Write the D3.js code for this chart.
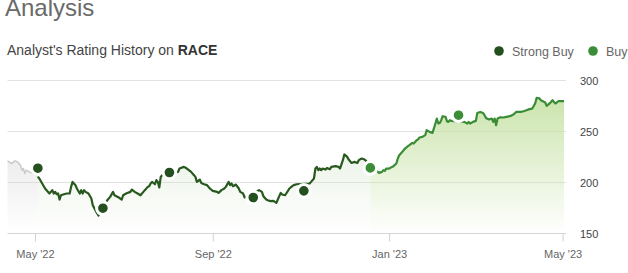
<!DOCTYPE html>
<html>
<head>
<meta charset="utf-8">
<script src="https://cdn.jsdelivr.net/npm/d3@7"></script>
<style>
html,body{margin:0;padding:0;background:#fff;}
svg{display:block;font-family:Arial,"Liberation Sans",sans-serif;}
</style>
</head>
<body>
<svg id="chart" width="628" height="273"></svg>
<script>
const priceDates = ["2022-04-12","2022-04-15","2022-04-17","2022-04-19","2022-04-21","2022-04-22","2022-04-23","2022-04-24","2022-04-25","2022-04-27","2022-04-30","2022-05-02",
"2022-05-04","2022-05-08","2022-05-11","2022-05-13","2022-05-14","2022-05-15","2022-05-16","2022-05-17","2022-05-18","2022-05-19","2022-05-21","2022-05-23","2022-05-25","2022-05-26","2022-05-27","2022-05-29","2022-05-30",
"2022-06-01","2022-06-02","2022-06-03","2022-06-04","2022-06-05","2022-06-07","2022-06-09","2022-06-10","2022-06-12","2022-06-14","2022-06-20","2022-06-22","2022-06-24","2022-06-25","2022-06-28","2022-06-30",
"2022-07-01","2022-07-03","2022-07-06","2022-07-07","2022-07-09","2022-07-11","2022-07-13","2022-07-15","2022-07-16","2022-07-18","2022-07-19","2022-07-20","2022-07-21","2022-07-23","2022-07-24","2022-07-25","2022-07-26","2022-07-27","2022-07-28",
"2022-08-08","2022-08-09","2022-08-12","2022-08-13","2022-08-15","2022-08-17","2022-08-19","2022-08-20","2022-08-21","2022-08-23","2022-08-24","2022-08-26","2022-08-28","2022-08-30",
"2022-09-01","2022-09-04","2022-09-05","2022-09-07","2022-09-09","2022-09-10","2022-09-12","2022-09-13","2022-09-14","2022-09-15","2022-09-17","2022-09-19","2022-09-20","2022-09-22","2022-09-23",
"2022-10-03","2022-10-05","2022-10-06","2022-10-08","2022-10-09","2022-10-11","2022-10-13","2022-10-15","2022-10-16","2022-10-17","2022-10-18","2022-10-19","2022-10-21","2022-10-23","2022-10-24","2022-10-26","2022-10-27","2022-10-29",
"2022-11-07","2022-11-08","2022-11-10","2022-11-11","2022-11-12","2022-11-13","2022-11-14","2022-11-15","2022-11-16","2022-11-18","2022-11-19","2022-11-21","2022-11-22","2022-11-25","2022-11-27","2022-11-28","2022-11-30",
"2022-12-01","2022-12-03","2022-12-04","2022-12-06","2022-12-08","2022-12-10","2022-12-11","2022-12-13","2022-12-15","2022-12-16","2022-12-25","2022-12-27","2022-12-28","2022-12-29","2022-12-30",
"2023-01-01","2023-01-03","2023-01-04","2023-01-06","2023-01-07","2023-01-08","2023-01-10","2023-01-12","2023-01-14","2023-01-15","2023-01-17","2023-01-18","2023-01-20","2023-01-21","2023-01-22","2023-01-24","2023-01-26","2023-01-27","2023-01-29","2023-01-31",
"2023-02-02","2023-02-03","2023-02-04","2023-02-05","2023-02-06","2023-02-07","2023-02-09","2023-02-10","2023-02-11","2023-02-12","2023-02-13","2023-02-22","2023-02-24","2023-02-25","2023-02-26","2023-02-28",
"2023-03-02","2023-03-03","2023-03-05","2023-03-07","2023-03-08","2023-03-09","2023-03-11","2023-03-13","2023-03-14","2023-03-15","2023-03-16","2023-03-17","2023-03-19","2023-03-21","2023-03-23","2023-03-26","2023-03-28","2023-03-30",
"2023-04-02","2023-04-04","2023-04-06","2023-04-08","2023-04-10","2023-04-12","2023-04-13","2023-04-15","2023-04-16","2023-04-19","2023-04-20","2023-04-22","2023-04-24","2023-04-26","2023-04-27","2023-04-28","2023-04-30","2023-05-02"];
const priceValues = [221.2,218.6,221.2,220.2,217.0,212.1,213.7,208.8,212.1,210.4,208.8,207.2,
203.9,194.1,189.2,192.5,189.2,190.8,188.5,189.2,183.3,187.5,188.5,189.2,189.2,195.7,200.6,197.4,194.1,
189.2,192.5,189.2,192.5,190.8,189.2,184.3,177.7,172.2,167.6,182.6,185.9,190.8,187.5,185.3,183.3,
187.5,189.2,190.8,193.1,190.8,189.2,187.5,190.8,192.5,195.7,196.4,199.0,200.6,198.3,202.3,200.6,195.1,205.5,207.2,
210.4,213.7,215.3,214.7,212.7,210.4,207.2,205.5,200.6,202.9,199.6,198.3,197.4,194.1,
191.8,190.8,189.8,192.5,194.1,195.7,200.6,197.4,199.0,196.4,198.0,194.1,190.8,189.2,185.3,
192.5,190.8,186.6,183.3,182.6,181.7,182.0,180.0,183.3,186.6,189.8,188.2,187.5,191.8,194.1,196.4,197.4,198.3,
199.0,200.6,203.9,213.7,215.3,212.1,213.7,212.1,213.7,212.7,214.3,213.0,215.3,216.0,215.3,213.7,221.9,
227.5,225.1,222.5,219.2,220.2,219.2,221.9,223.5,222.5,221.2,209.4,210.4,212.1,211.4,213.7,
213.7,215.3,216.0,218.6,223.5,226.8,230.0,233.3,235.6,236.6,238.8,238.2,241.5,242.2,244.1,244.7,246.4,251.3,249.6,248.6,
257.8,262.7,257.8,258.4,261.1,265.0,264.3,260.1,259.4,261.1,260.4,259.4,257.8,259.4,257.8,259.4,
260.4,268.2,269.2,268.1,266.0,263.3,261.8,262.7,259.4,262.7,256.2,262.7,264.0,263.7,264.3,265.3,266.7,269.2,
269.2,269.9,270.9,271.9,272.5,277.5,282.9,282.4,280.7,278.4,275.1,277.5,280.7,277.5,278.4,279.7,279.7,279.7];

const ratingDates = ["2022-05-03","2022-06-17","2022-08-02","2022-09-29","2022-11-03","2022-12-19","2023-02-18"];
const ratingValues = [214.0,174.8,209.8,185.3,191.8,214.3,266.0];
const ratingTypes = ["Strong Buy","Strong Buy","Strong Buy","Strong Buy","Strong Buy","Buy","Buy"];

const legendLabels = ["Strong Buy","Buy"];
const yTickValues = [150,200,250,300];
const xTickDates = ["2022-05-01","2022-09-01","2023-01-01","2023-05-01"];
const xTickLabels = ["May '22","Sep '22","Jan '23","May '23"];

const parse = d3.timeParse("%Y-%m-%d");
const prices = priceDates.map((d,i)=>({date:parse(d), value:priceValues[i]}));
const ratings = ratingDates.map((d,i)=>({date:parse(d), value:ratingValues[i], type:ratingTypes[i]}));

const colors = {
  "None":      {line:"#c9c9c9", fill:"#cdcdcd", fillOp:0.75},
  "Strong Buy":{line:"#27591f", fill:"#d3e3cb", fillOp:0.8, dot:"#245020"},
  "Buy":       {line:"#3a8d35", fill:"#c4e1a2", fillOp:1.0, dot:"#3b8d37"}
};

const svg = d3.select("#chart");
const x = d3.scaleTime().domain([parse("2022-04-12"), parse("2023-05-03")]).range([7.5, 565.5]);
const y = d3.scaleLinear().domain([150,300]).range([233.5,80.5]);

// Title
svg.append("text").attr("x",5).attr("y",16).attr("font-size",24).attr("fill","#6a6a6a").text("Analysis");
const sub = svg.append("text").attr("x",7).attr("y",55).attr("font-size",14).attr("fill","#444");
sub.append("tspan").text("Analyst's Rating History on ");
sub.append("tspan").attr("font-weight","bold").attr("fill","#333").text("RACE");

// Legend
const legX = [499, 593];
legendLabels.forEach((l,i)=>{
  svg.append("circle").attr("cx",legX[i]).attr("cy",51).attr("r",4.8).attr("fill",colors[l].dot);
  svg.append("text").attr("x",legX[i]+13).attr("y",55.5).attr("font-size",12.5).attr("fill","#666").text(l);
});

// Grid
const grid = svg.append("g");
yTickValues.forEach(v=>{
  grid.append("line").attr("x1",7.5).attr("x2",566).attr("y1",y(v)).attr("y2",y(v))
    .attr("stroke", v===150 ? "#d6d6d6" : "#e2e2e2").attr("stroke-width",1);
});
const yAxis = d3.axisRight(y).tickValues(yTickValues).tickSize(0).tickPadding(0);
const yg = svg.append("g").attr("transform","translate(580,0)").call(yAxis);
yg.select(".domain").remove();
yg.selectAll("text").attr("font-size",11).attr("fill","#444").attr("font-family","Arial,'Liberation Sans',sans-serif");

const xAxis = d3.axisBottom(x).tickValues(xTickDates.map(parse)).tickFormat((d,i)=>xTickLabels[i]).tickSize(8).tickPadding(9);
const xg = svg.append("g").attr("transform","translate(0,233.5)").call(xAxis);
xg.select(".domain").remove();
xg.selectAll(".tick line").attr("stroke","#d0d0d0");
xg.selectAll("text").attr("font-size",11).attr("fill","#666").attr("font-family","Arial,'Liberation Sans',sans-serif");

// Segments by rating in effect
function interp(date){
  const i = d3.bisector(d=>d.date).left(prices, date);
  if(i<=0) return prices[0].value;
  if(i>=prices.length) return prices[prices.length-1].value;
  const a=prices[i-1], b=prices[i];
  const t=(date-a.date)/(b.date-a.date);
  return a.value+(b.value-a.value)*t;
}
const bounds = [{start:prices[0].date, type:"None"}];
ratings.forEach(r=>{ if(bounds[bounds.length-1].type!==r.type) bounds.push({start:r.date,type:r.type}); });
const segs = bounds.map((b,i)=>{
  const end = i<bounds.length-1 ? bounds[i+1].start : prices[prices.length-1].date;
  const pts = prices.filter(p=>p.date>b.start && p.date<end);
  pts.unshift({date:b.start, value:interp(b.start)});
  pts.push({date:end, value:interp(end)});
  return {type:b.type, pts};
});

const defs = svg.append("defs");
segs.forEach((s,i)=>{
  const c = colors[s.type];
  const g = defs.append("linearGradient").attr("id","grad"+i).attr("gradientUnits","userSpaceOnUse")
    .attr("x1",0).attr("x2",0).attr("y1",y(300)).attr("y2",y(150));
  g.append("stop").attr("offset",0).attr("stop-color",c.fill).attr("stop-opacity",c.fillOp);
  g.append("stop").attr("offset",1).attr("stop-color",c.fill).attr("stop-opacity",0);
});
const area = d3.area().x(d=>x(d.date)).y0(y(150)).y1(d=>y(d.value));
const line = d3.line().x(d=>x(d.date)).y(d=>y(d.value));
segs.forEach((s,i)=>{
  svg.append("path").datum(s.pts).attr("d",area).attr("fill","url(#grad"+i+")");
});
segs.forEach((s,i)=>{
  svg.append("path").datum(s.pts).attr("d",line).attr("fill","none")
    .attr("stroke",colors[s.type].line).attr("stroke-width", s.type==="None"?1.5:2.2)
    .attr("stroke-linejoin","round");
});

// Rating markers
svg.append("g").selectAll("circle").data(ratings).join("circle")
  .attr("cx",d=>x(d.date)).attr("cy",d=>y(d.value)).attr("r",6.3)
  .attr("fill",d=>colors[d.type].dot).attr("stroke","#fff").attr("stroke-width",3);
</script>
</body>
</html>
